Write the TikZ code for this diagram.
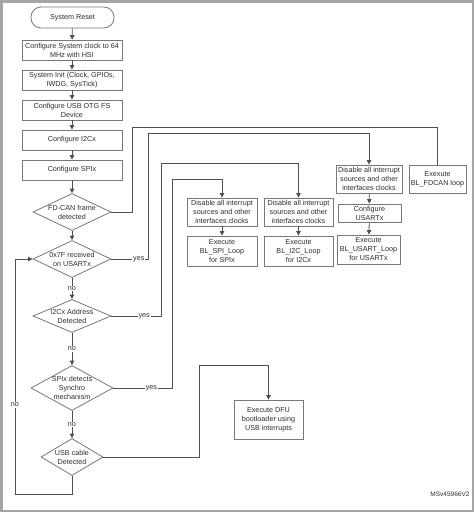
\documentclass[tikz,border=0pt]{standalone}
\usepackage{fontspec}
\setmainfont{Liberation Sans}
\definecolor{linegray}{RGB}{80, 80, 80}
\definecolor{boxgray}{RGB}{120, 120, 120}
\definecolor{textgray}{RGB}{45, 45, 45}
\definecolor{framegray}{RGB}{165, 165, 165}
\usetikzlibrary{shapes.geometric, arrows.meta, positioning, calc}
\newcommand{\flowfont}{\fontsize{7.2}{9}\selectfont}
\tikzset{
  blockbox/.style={draw=boxgray, line width=0.8pt, fill=white, align=center, inner sep=1pt, font=\flowfont, text=textgray},
  startbox/.style={blockbox, rounded corners=10pt},
  decision/.style={diamond, draw=boxgray, line width=0.8pt, inner sep=0pt},
  dtext/.style={align=center, font=\flowfont, text=textgray, inner sep=0pt},
  flowline/.style={draw=linegray, line width=0.8pt},
  flowarrow/.style={flowline, -{Triangle[width=4.5pt, length=4.5pt]}},
  flowlabel/.style={fill=white, inner sep=1pt, font=\flowfont, text=textgray}
}

\begin{document}
\begin{tikzpicture}[x=1pt, y=-1pt]
  \useasboundingbox (0, 0) rectangle (474, 512);
  \draw[framegray, line width=2.5pt] (1.25, 1.25) rectangle (472.75, 510.75);

  % Init sequence
  \node[startbox, minimum width=83pt, minimum height=21pt] (reset) at (72.5, 17.5) {System Reset};
  \node[blockbox, minimum width=100pt, minimum height=20pt] (sysclk) at (72, 50) {Configure System clock to 64\\MHz with HSI};
  \node[blockbox, minimum width=100pt, minimum height=20pt] (sysinit) at (72, 80) {System Init (Clock, GPIOs,\\IWDG, SysTick)};
  \node[blockbox, minimum width=100pt, minimum height=20pt] (usbotg) at (72, 110) {Configure USB OTG FS\\Device};
  \node[blockbox, minimum width=100pt, minimum height=20pt] (cfgi2c) at (72, 140) {Configure I2Cx};
  \node[blockbox, minimum width=100pt, minimum height=20pt] (cfgspi) at (72, 170) {Configure SPIx};

  % Detection loop
  \node[decision, minimum width=78pt, minimum height=37pt] (fdcan) at (72, 212) {};
  \node[dtext] (fdcan-t) at (fdcan) {FD-CAN frame\\detected};
  \node[decision, minimum width=78pt, minimum height=37pt] (rxusart) at (72, 259) {};
  \node[dtext] (rxusart-t) at (rxusart) {0x7F received\\on USARTx};
  \node[decision, minimum width=78pt, minimum height=33pt] (i2caddr) at (72, 316) {};
  \node[dtext] (i2caddr-t) at (i2caddr) {I2Cx Address\\Detected};
  \node[decision, minimum width=82pt, minimum height=45pt] (spisync) at (72, 388) {};
  \node[dtext] (spisync-t) at (spisync) {SPIx detects\\Synchro\\mechanism};
  \node[decision, minimum width=62pt, minimum height=37pt] (usbcable) at (72, 457) {};
  \node[dtext] (usbcable-t) at (usbcable) {USB cable\\Detected};

  % Bootloader loops
  \node[blockbox, minimum width=70pt, minimum height=28pt] (spidis) at (222, 212) {Disable all interrupt\\sources and other\\interfaces clocks};
  \node[blockbox, minimum width=70pt, minimum height=30pt] (spiexe) at (222, 251) {Execute\\BL\_SPI\_Loop\\for SPIx};
  \node[blockbox, minimum width=69pt, minimum height=28pt] (i2cdis) at (298.5, 212) {Disable all interrupt\\sources and other\\interfaces clocks};
  \node[blockbox, minimum width=69pt, minimum height=30pt] (i2cexe) at (298.5, 251) {Execute\\BL\_I2C\_Loop\\for I2Cx};
  \node[blockbox, minimum width=66pt, minimum height=28pt] (usartdis) at (369, 179) {Disable all interrupt\\sources and other\\interfaces clocks};
  \node[blockbox, minimum width=63pt, minimum height=18pt] (usartcfg) at (369.5, 213) {Configure\\USARTx};
  \node[blockbox, minimum width=63pt, minimum height=29pt] (usartexe) at (368.5, 249.5) {Execute\\BL\_USART\_Loop\\for USARTx};
  \node[blockbox, minimum width=57pt, minimum height=28pt] (fdcanexe) at (437.5, 179) {Exexute\\BL\_FDCAN loop};
  \node[blockbox, minimum width=69pt, minimum height=39pt] (dfuexe) at (268.5, 419.5) {Execute DFU\\bootloader using\\USB interrupts};

  \node[font=\fontsize{6.5}{8}\selectfont, text=textgray] (figid) at (450, 494) {MSv45966V2};

  % Main flow
  \draw[flowarrow] (reset) -- (sysclk);
  \draw[flowarrow] (sysclk) -- (sysinit);
  \draw[flowarrow] (sysinit) -- (usbotg);
  \draw[flowarrow] (usbotg) -- (cfgi2c);
  \draw[flowarrow] (cfgi2c) -- (cfgspi);
  \draw[flowarrow] (cfgspi) -- (fdcan.north);
  \draw[flowarrow] (fdcan.south) -- (rxusart.north);
  \draw[flowarrow] (rxusart.south) -- node[flowlabel] {no} (i2caddr.north);
  \draw[flowarrow] (i2caddr.south) -- node[flowlabel] {no} (spisync.north);
  \draw[flowarrow] (spisync.south) -- node[flowlabel] {no} (usbcable.north);

  % Back to the start of the loop
  \coordinate (loopb) at (72, 494);
  \coordinate (loopl) at (15, 494);
  \draw[flowarrow] (usbcable.south) -- (loopb) -- (loopl)
    -- node[flowlabel, pos=0.38] {no} (loopl |- rxusart.west) -- (rxusart.west);

  % Yes branches
  \coordinate (fdcanup) at (132, 127);
  \coordinate (usartup) at (148, 133);
  \coordinate (i2cup) at (161, 163);
  \coordinate (spiup) at (172, 179);
  \coordinate (usbup) at (199, 365);
  \draw[flowline] (fdcan.east) -| (fdcanup) -| (fdcanexe.north);
  \draw[flowarrow] (rxusart.east) -- node[flowlabel, pos=0.75] {yes} (rxusart.east -| usartup) -- (usartup) -| (usartdis.north);
  \draw[flowarrow] (i2caddr.east) -- node[flowlabel, pos=0.66] {yes} (i2caddr.east -| i2cup) -- (i2cup) -| (i2cdis.north);
  \draw[flowarrow] (spisync.east) -- node[flowlabel, pos=0.65] {yes} (spisync.east -| spiup) -- (spiup) -| (spidis.north);
  \draw[flowarrow] (usbcable.east) -| (usbup) -| (dfuexe.north);

  \draw[flowarrow] (spidis) -- (spiexe);
  \draw[flowarrow] (i2cdis) -- (i2cexe);
  \draw[flowarrow] (usartdis) -- (usartcfg);
  \draw[flowarrow] (usartcfg) -- (usartexe);
\end{tikzpicture}
\end{document}
